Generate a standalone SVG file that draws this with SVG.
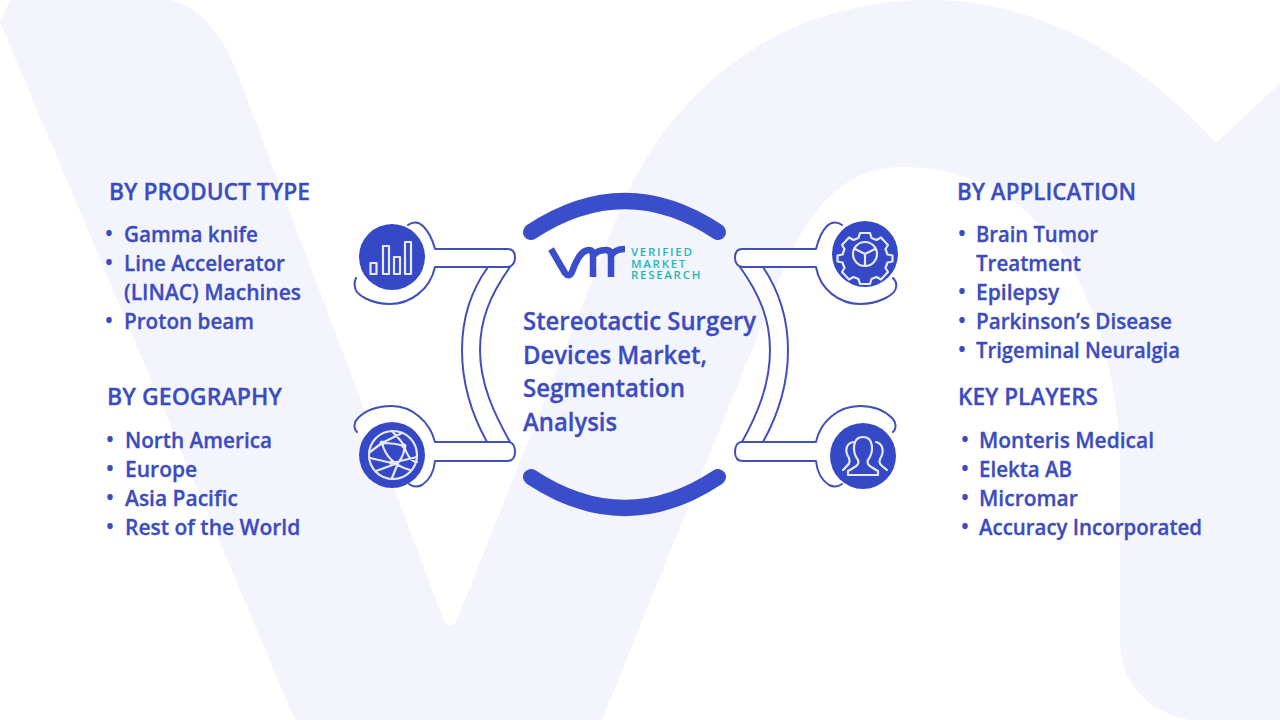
<svg xmlns="http://www.w3.org/2000/svg" width="1280" height="720" viewBox="0 0 1280 720">
<style>
text{font-family:"Open Sans","Noto Sans","Liberation Sans",sans-serif;font-weight:600;fill:#3b4cc0;stroke:#3b4cc0;stroke-width:.3}
.h{font-size:22.5px}
.i{font-size:21px}
.t{font-size:24.5px}
.b{font-size:21px}
.l{font-size:11.5px;fill:#22b5b8;stroke:none;letter-spacing:1.7px;font-weight:600}
.c{fill:#fff;stroke:#3f51b9;stroke-width:2;stroke-linejoin:round;stroke-linecap:round}
.n{fill:#3548c6}
.ic{fill:none;stroke:#e6e9fa;stroke-width:2.2;stroke-linejoin:round;stroke-linecap:round}
.arc{fill:none;stroke:#3a4ecb;stroke-width:16;stroke-linecap:round}
</style>
<rect width="1280" height="720" fill="#fff"/>
<g id="background" fill="#f4f5fc">
<path d="M10 0 L170 0 C205 8 225 40 240 80 L443 618 Q450 634 458 618 L620 210 C665 100 770 0 930 0 C1050 0 1150 70 1216 143 L1280 83 L1280 720 L1190 720 C1145 712 1120 680 1120 640 L1120 470 C1120 330 1060 165 900 167 C840 168 800 215 770 305 L602 720 L295 720 L0 22 Z"/>
</g>
<g id="connectors">
<path class="c" d="M462 350 C462 312 475 285 488 267 L510 267 C490 295 480 320 480 350 C480 385 495 415 510 442 L487 442 C472 415 462 385 462 350 Z"/>
<path class="c" d="M788 350 C788 312 775 285 763 267 L740 267 C760 295 770 320 770 350 C770 385 757 415 742 442 L763 442 C778 415 788 385 788 350 Z"/>
<path class="c" d="M408 225 C412 222 418 221 423 226 C429 232 433 241 435 249 L508 249 C513 249 515 253 515 258 C515 263 512 267 507 267 L435 267 C430 290 410 304 390 304 C372 304 355 295 355 287 C354 283 355 280 356 278"/>
<path class="c" d="M357 432 C353 428 354 422 358 418 C366 410 378 406 392 406 C412 406 430 422 435 442 L508 442 C513 442 515 447 515 452 C515 457 513 461 507 461 L435 461 C434 470 430 480 422 485 C418 487 413 487 409 484"/>
<path class="c" d="M842 225 C838 222 832 221 827 226 C821 232 818 241 816 249 L742 249 C737 249 735 253 735 258 C735 263 738 267 743 267 L816 267 C820 290 840 304 860 304 C878 304 896 295 896 287 C897 283 895 280 893 278"/>
<path class="c" d="M893 432 C897 428 896 422 892 418 C884 410 872 406 860 406 C838 406 820 422 816 442 L742 442 C737 442 735 447 735 452 C735 457 737 461 743 461 L816 461 C817 470 821 480 829 485 C833 487 838 487 842 484"/>
</g>
<g id="center-topic">
<path class="arc" d="M531 232 Q625 170 718 232"/>
<path class="arc" d="M531 477 Q625 539 718 477"/>
<g id="logo">
<path d="M551 249 L565 273 Q569 278 572 272 C577 258 582 250 589 250 Q593 250 593 256 L593 277 M593 256 C597 250 603 250 606 250 Q611 250 611 256 L611 277 M611 256 C614 250 620 249 625 249" fill="none" stroke="#3a4ecb" stroke-width="6.5" stroke-linejoin="round"/>
<text class="l" x="631" y="255.500">VERIFIED</text>
<text class="l" x="631" y="267.500">MARKET</text>
<text class="l" x="631" y="279">RESEARCH</text>
</g>
<text class="t" x="523" y="330" textLength="233" lengthAdjust="spacingAndGlyphs">Stereotactic Surgery</text>
<text class="t" x="523" y="364" textLength="184" lengthAdjust="spacingAndGlyphs">Devices Market,</text>
<text class="t" x="523" y="397" textLength="162" lengthAdjust="spacingAndGlyphs">Segmentation</text>
<text class="t" x="523" y="431" textLength="94" lengthAdjust="spacingAndGlyphs">Analysis</text>
</g>
<g id="node-product">
<circle class="n" cx="392" cy="257" r="33"/>
<path class="ic" d="M370.500 263h6v11h-6zM383 246h6v28h-6zM394 257h6v17h-6zM405 242h6v32h-6z"/>
<text class="h" x="109" y="200" textLength="201" lengthAdjust="spacingAndGlyphs">BY PRODUCT TYPE</text>
<text class="b" x="105" y="241">•</text><text class="i" x="124" y="242" textLength="134" lengthAdjust="spacingAndGlyphs">Gamma knife</text>
<text class="b" x="105" y="270">•</text><text class="i" x="124" y="271" textLength="161" lengthAdjust="spacingAndGlyphs">Line Accelerator</text>
<text class="i" x="124" y="300" textLength="177" lengthAdjust="spacingAndGlyphs">(LINAC) Machines</text>
<text class="b" x="105" y="328">•</text><text class="i" x="124" y="329" textLength="130" lengthAdjust="spacingAndGlyphs">Proton beam</text>
</g>
<g id="node-geography">
<circle class="n" cx="392" cy="455" r="33"/>
<g class="ic"><circle cx="393" cy="455" r="24"/><path d="M370 452L382 443L402 433M382 443C385 455 392 465 410 470M392 431C397 437 402 441 404 446C405 452 402 458 398 463L392 478M382 443C390 443 398 444 404 446C407 455 411 462 417 462M370 458L392 463L417 457M376 471L398 463"/></g>
<circle cx="382" cy="443" r="2.500" fill="#e6e9fa"/><circle cx="404" cy="446" r="2.500" fill="#e6e9fa"/><circle cx="392" cy="463" r="2.500" fill="#e6e9fa"/>
<text class="h" x="107" y="405" textLength="175" lengthAdjust="spacingAndGlyphs">BY GEOGRAPHY</text>
<text class="b" x="106" y="447">•</text><text class="i" x="125" y="448" textLength="147" lengthAdjust="spacingAndGlyphs">North America</text>
<text class="b" x="106" y="476">•</text><text class="i" x="125" y="477">Europe</text>
<text class="b" x="106" y="505">•</text><text class="i" x="125" y="506">Asia Pacific</text>
<text class="b" x="106" y="534">•</text><text class="i" x="125" y="535">Rest of the World</text>
</g>
<g id="node-application">
<circle class="n" cx="865" cy="254" r="33"/>
<g class="ic"><path d="M860 233h10l1.500 5 5 2 4.500-2.500 7 7.500-2.500 4 2 5.500 5 1v6l-5 1-2 5.500 2.500 4-7 7.500-4.500-2.500-5 2-1.500 5h-10l-1.500-5-5-2-4.500 2.500-7-7.500 2.500-4-2-5.500-5-1v-6l5-1 2-5.500-2.500-4 7-7.500 4.500 2.500 5-2z"/><circle cx="865" cy="254" r="12"/><path d="M855 249L865 254 875 249M865 254V266"/></g>
<text class="h" x="957" y="200" textLength="179" lengthAdjust="spacingAndGlyphs">BY APPLICATION</text>
<text class="b" x="958" y="241">•</text><text class="i" x="976" y="242" textLength="122" lengthAdjust="spacingAndGlyphs">Brain Tumor</text>
<text class="i" x="976" y="271" textLength="105" lengthAdjust="spacingAndGlyphs">Treatment</text>
<text class="b" x="958" y="299">•</text><text class="i" x="976" y="300">Epilepsy</text>
<text class="b" x="958" y="328">•</text><text class="i" x="976" y="329" textLength="196" lengthAdjust="spacingAndGlyphs">Parkinson’s Disease</text>
<text class="b" x="958" y="357">•</text><text class="i" x="976" y="358" textLength="204" lengthAdjust="spacingAndGlyphs">Trigeminal Neuralgia</text>
</g>
<g id="node-players">
<circle class="n" cx="863" cy="456" r="33"/>
<path class="ic" d="M848 475V471C855 467 860 465 858 460C852 452 852 437 863 437C874 437 874 452 868 460C866 465 871 467 878 471V475ZM849 464L843 470C848 465 851 463 849 458C845 452 845 444 853 442M876 442C884 444 884 453 880 459C878 464 882 466 887 470"/>
<text class="h" x="958" y="405" textLength="140" lengthAdjust="spacingAndGlyphs">KEY PLAYERS</text>
<text class="b" x="961" y="447">•</text><text class="i" x="979" y="448" textLength="175" lengthAdjust="spacingAndGlyphs">Monteris Medical</text>
<text class="b" x="961" y="476">•</text><text class="i" x="979" y="477" textLength="93" lengthAdjust="spacingAndGlyphs">Elekta AB</text>
<text class="b" x="961" y="505">•</text><text class="i" x="979" y="506">Micromar</text>
<text class="b" x="961" y="534">•</text><text class="i" x="979" y="535" textLength="223" lengthAdjust="spacingAndGlyphs">Accuracy Incorporated</text>
</g>
</svg>
